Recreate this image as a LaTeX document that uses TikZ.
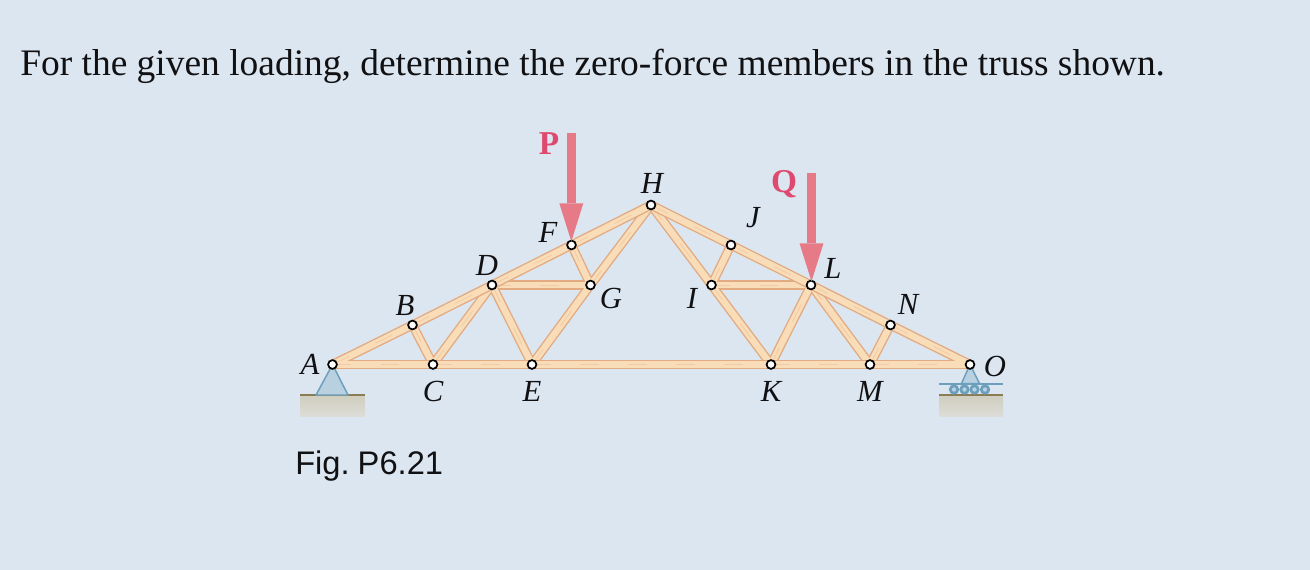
\documentclass[tikz,border=0pt]{standalone}
\usepackage{fontspec}
\setmainfont{Liberation Serif}
\newfontfamily\figfont[WordSpace=0.55]{Liberation Sans}
\usetikzlibrary{arrows.meta}
\pgfdeclarelayer{bgl}\pgfdeclarelayer{webs}\pgfdeclarelayer{chords}
\pgfsetlayers{bgl,webs,chords,main}
\definecolor{bgc}{HTML}{DCE6F1}
\definecolor{woodedge}{HTML}{E2AB82}
\definecolor{woodfill}{HTML}{F8DDB8}
\definecolor{forcec}{HTML}{E67A87}
\definecolor{forcet}{HTML}{E0496F}
\definecolor{supf}{HTML}{B9D0E1}
\definecolor{supe}{HTML}{6C9FBC}
\definecolor{inkc}{HTML}{111113}
\definecolor{supg}{HTML}{CFCDBD}
\definecolor{supgb}{HTML}{DDDDD8}
\definecolor{supl}{HTML}{8A7D55}
\tikzset{
 x=0.75pt,y=-0.75pt,
 pin/.style={circle,draw=black,fill=white,line width=1.3pt,minimum size=6.6pt,inner sep=0pt},
 member/.style={line cap=butt,draw=woodedge,line width=7pt},
 memberin/.style={line cap=butt,draw=woodfill,line width=4.9pt},
 grain/.style={line cap=butt,draw=woodedge,opacity=.35,line width=.6pt,dash pattern=on 14pt off 22pt},
 lab/.style={font=\fontsize{23}{23}\selectfont\itshape,text=inkc,inner sep=0pt},
 force/.style={draw=forcec,line width=6.3pt,-{Triangle[length=28.5pt,width=18pt,line width=0pt,fill=forcec]},shorten >=-1pt},
 forcelab/.style={font=\fontsize{25}{25}\selectfont\bfseries,text=forcet,inner sep=0pt},
 supp/.style={draw=supe,fill=supf,line width=1.1pt,line join=round},
 ground/.style={draw=none,top color=supg,bottom color=supgb},
 groundline/.style={draw=supl,line width=1.5pt},
 roller/.style={circle,draw=supe,fill=supf,line width=2pt,minimum size=5.6pt,inner sep=0pt},
 railc/.style={draw=supe,line width=1.1pt},
}
\newcommand{\truss}[2]{%
 \begin{pgfonlayer}{#1}
 \foreach \a/\b in {#2}{\draw[member] (\a.center) -- (\b.center);}
 \foreach \a/\b in {#2}{\draw[memberin] (\a.center) -- (\b.center);}
 \foreach \a/\b in {#2}{\draw[grain] (\a.center) -- (\b.center);}
 \end{pgfonlayer}}
\begin{document}
\begin{tikzpicture}
\begin{pgfonlayer}{bgl}
\fill[bgc] (0,0) rectangle (1310,570);
\end{pgfonlayer}
\useasboundingbox (0,0) rectangle (1310,570);
\node[anchor=base west,inner sep=0pt,font=\fontsize{28.08}{28.08}\selectfont,text=inkc] (title) at (20,76) {For the given loading, determine the zero-force members in the truss shown.};
\node[anchor=base west,inner sep=0pt,font=\figfont\fontsize{24.5}{24.5}\selectfont,text=inkc] (fig) at (295,474) {Fig. P6.21};
% supports
\fill[ground] (300,395) rectangle (364.5,416);
\draw[groundline] (300,395) -- (364.5,395);
\draw[supp] (332.5,364.5) -- (316,395) -- (348,395) -- cycle;
\fill[ground] (939,395) rectangle (1003,416);
\draw[groundline] (939,395) -- (1003,395);
\draw[supp] (970,364.5) -- (961.5,383.5) -- (979.5,383.5) -- cycle;
\draw[railc] (938.5,384) -- (1003,384);
\foreach \n/\x in {r1/954,r2/964.5,r3/974.5,r4/985}{\node[roller] (\n) at (\x,389.5) {};}
% pins
\node[pin] (A) at (332.5,364.5) {};
\node[pin] (B) at (412.5,325) {};
\node[pin] (C) at (433,364.5) {};
\node[pin] (D) at (492,285) {};
\node[pin] (E) at (532,364.5) {};
\node[pin] (F) at (571.5,245) {};
\node[pin] (G) at (590.5,285) {};
\node[pin] (H) at (651,205) {};
\node[pin] (I) at (711.5,285) {};
\node[pin] (J) at (731,245) {};
\node[pin] (K) at (771,364.5) {};
\node[pin] (L) at (811,285) {};
\node[pin] (M) at (870,364.5) {};
\node[pin] (N) at (890.5,325) {};
\node[pin] (O) at (970,364.5) {};
% members
\truss{webs}{B/C,C/D,D/E,D/G,E/G,F/G,G/H,H/I,I/K,I/J,I/L,K/L,L/M,M/N}
\truss{chords}{A/C,C/E,E/K,K/M,M/O,A/B,B/D,D/F,F/H,H/J,J/L,L/N,N/O}
% labels
\node[lab] (lA) at (310,364) {A};
\node[lab] (lB) at (405,306) {B};
\node[lab] (lC) at (433,391) {C};
\node[lab] (lD) at (487,265) {D};
\node[lab] (lE) at (532,391) {E};
\node[lab] (lF) at (548,232) {F};
\node[lab] (lG) at (611,298) {G};
\node[lab] (lH) at (652,183) {H};
\node[lab] (lI) at (692,298) {I};
\node[lab] (lJ) at (753,218) {J};
\node[lab] (lK) at (771,391) {K};
\node[lab] (lL) at (833,268) {L};
\node[lab] (lM) at (870,391) {M};
\node[lab] (lN) at (908,304) {N};
\node[lab] (lO) at (995,366) {O};
% loads
\coordinate (Ps) at (571.3,133);
\coordinate (Pe) at (571.3,240);
\coordinate (Qs) at (811.5,173);
\coordinate (Qe) at (811.5,280);
\draw[force] (Ps) -- (Pe);
\draw[force] (Qs) -- (Qe);
\node[forcelab] (lP) at (549,144) {P};
\node[forcelab] (lQ) at (784,184) {Q};
\end{tikzpicture}
\end{document}
